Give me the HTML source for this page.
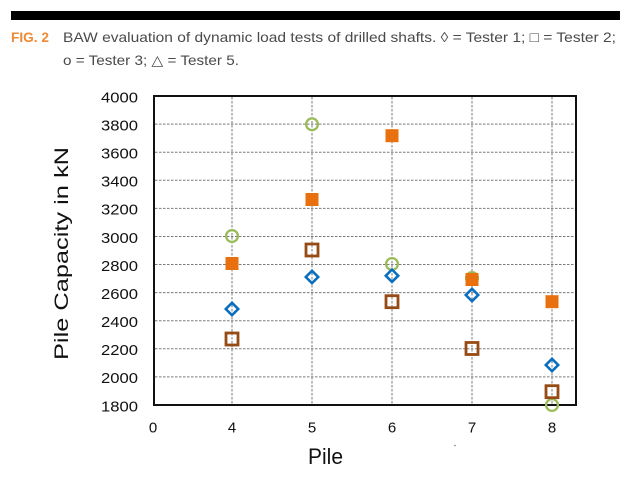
<!DOCTYPE html>
<html>
<head>
<meta charset="utf-8">
<style>
  html, body { margin: 0; padding: 0; background: #ffffff; }
  svg { display: block; }
  text { font-family: "Liberation Sans", "DejaVu Sans", sans-serif; }
</style>
</head>
<body>
<svg width="632" height="485" viewBox="0 0 632 485" xmlns="http://www.w3.org/2000/svg">
  <rect x="0" y="0" width="632" height="485" fill="#ffffff"/>
  <!-- top black bar -->
  <rect x="11" y="11" width="609" height="9" fill="#000000"/>
  <!-- caption -->
  <text x="11" y="42" font-size="14" font-weight="bold" fill="#EE8A33" textLength="38" lengthAdjust="spacingAndGlyphs">FIG. 2</text>
  <text x="63" y="42" font-size="14" fill="#4a4a4a" textLength="553" lengthAdjust="spacingAndGlyphs">BAW evaluation of dynamic load tests of drilled shafts. ◊ = Tester 1; □ = Tester 2;</text>
  <text x="63" y="65" font-size="14" fill="#4a4a4a" textLength="176" lengthAdjust="spacingAndGlyphs">o = Tester 3; △ = Tester 5.</text>

  <!-- gridlines horizontal -->
  <g stroke="#7a7a7a" stroke-width="1" stroke-dasharray="2.5,1.5" fill="none">
    <line x1="155" y1="376.9" x2="575" y2="376.9"/>
    <line x1="155" y1="348.8" x2="575" y2="348.8"/>
    <line x1="155" y1="320.7" x2="575" y2="320.7"/>
    <line x1="155" y1="292.6" x2="575" y2="292.6"/>
    <line x1="155" y1="264.5" x2="575" y2="264.5"/>
    <line x1="155" y1="236.5" x2="575" y2="236.5"/>
    <line x1="155" y1="208.4" x2="575" y2="208.4"/>
    <line x1="155" y1="180.3" x2="575" y2="180.3"/>
    <line x1="155" y1="152.2" x2="575" y2="152.2"/>
    <line x1="155" y1="124.1" x2="575" y2="124.1"/>
    <!-- vertical -->
    <line x1="232" y1="97" x2="232" y2="404"/>
    <line x1="312" y1="97" x2="312" y2="404"/>
    <line x1="392" y1="97" x2="392" y2="404"/>
    <line x1="472" y1="97" x2="472" y2="404"/>
    <line x1="552" y1="97" x2="552" y2="404"/>
  </g>

  <!-- plot border -->
  <rect x="154" y="96" width="422" height="309" fill="none" stroke="#111111" stroke-width="2"/>

  <!-- y tick labels -->
  <g font-size="15" fill="#111111" text-anchor="end">
    <text x="138" y="102.3" textLength="37" lengthAdjust="spacingAndGlyphs">4000</text>
    <text x="138" y="130.4" textLength="37" lengthAdjust="spacingAndGlyphs">3800</text>
    <text x="138" y="158.5" textLength="37" lengthAdjust="spacingAndGlyphs">3600</text>
    <text x="138" y="186.6" textLength="37" lengthAdjust="spacingAndGlyphs">3400</text>
    <text x="138" y="214.7" textLength="37" lengthAdjust="spacingAndGlyphs">3200</text>
    <text x="138" y="242.8" textLength="37" lengthAdjust="spacingAndGlyphs">3000</text>
    <text x="138" y="270.8" textLength="37" lengthAdjust="spacingAndGlyphs">2800</text>
    <text x="138" y="298.9" textLength="37" lengthAdjust="spacingAndGlyphs">2600</text>
    <text x="138" y="327.0" textLength="37" lengthAdjust="spacingAndGlyphs">2400</text>
    <text x="138" y="355.1" textLength="37" lengthAdjust="spacingAndGlyphs">2200</text>
    <text x="138" y="383.2" textLength="37" lengthAdjust="spacingAndGlyphs">2000</text>
    <text x="138" y="411.3" textLength="37" lengthAdjust="spacingAndGlyphs">1800</text>
  </g>

  <!-- x tick labels -->
  <g font-size="15" fill="#111111" text-anchor="middle">
    <text x="153" y="432.5">0</text>
    <text x="232" y="432.5">4</text>
    <text x="312" y="432.5">5</text>
    <text x="392" y="432.5">6</text>
    <text x="472" y="432.5">7</text>
    <text x="552" y="432.5">8</text>
  </g>

  <!-- axis titles -->
  <text x="308" y="464" font-size="22" fill="#111111" textLength="35" lengthAdjust="spacingAndGlyphs">Pile</text>
  <text transform="translate(68,253.5) rotate(-90)" x="0" y="0" font-size="19.5" fill="#111111" text-anchor="middle" textLength="213" lengthAdjust="spacingAndGlyphs">Pile Capacity in kN</text>

  <!-- small artifact dot -->
  <circle cx="455" cy="445.5" r="0.8" fill="#777"/>

  <!-- Tester 3: green circles -->
  <g fill="none" stroke="#9BBB59" stroke-width="2.3">
    <circle cx="232" cy="236" r="5.9"/>
    <circle cx="312" cy="124.3" r="5.9"/>
    <circle cx="392" cy="264" r="5.9"/>
    <circle cx="472" cy="278" r="5.9"/>
    <circle cx="552" cy="405" r="5.9"/>
  </g>

  <!-- Tester 2: brown hollow squares -->
  <g fill="none" stroke="#974B14" stroke-width="2.8">
    <rect x="226" y="333" width="12" height="12"/>
    <rect x="306" y="244" width="12" height="12"/>
    <rect x="386" y="295.7" width="12" height="12"/>
    <rect x="466" y="342.5" width="12" height="12"/>
    <rect x="546" y="385.7" width="12" height="12"/>
  </g>

  <!-- Tester 1: blue diamonds -->
  <g fill="none" stroke="#0A6FC0" stroke-width="2.6">
    <polygon points="232,302.8 238.2,309 232,315.2 225.8,309"/>
    <polygon points="312,270.8 318.2,277 312,283.2 305.8,277"/>
    <polygon points="392,269.5 398.2,275.7 392,281.9 385.8,275.7"/>
    <polygon points="472,288.8 478.2,295 472,301.2 465.8,295"/>
    <polygon points="552,358.8 558.2,365 552,371.2 545.8,365"/>
  </g>

  <!-- Tester 5: orange filled squares -->
  <g fill="#E8700E">
    <rect x="225.5" y="257" width="13" height="13"/>
    <rect x="305.5" y="193" width="13" height="13"/>
    <rect x="385.5" y="129.2" width="13" height="13"/>
    <rect x="465.5" y="273" width="13" height="13"/>
    <rect x="545.5" y="295.2" width="13" height="13"/>
  </g>
</svg>
</body>
</html>
